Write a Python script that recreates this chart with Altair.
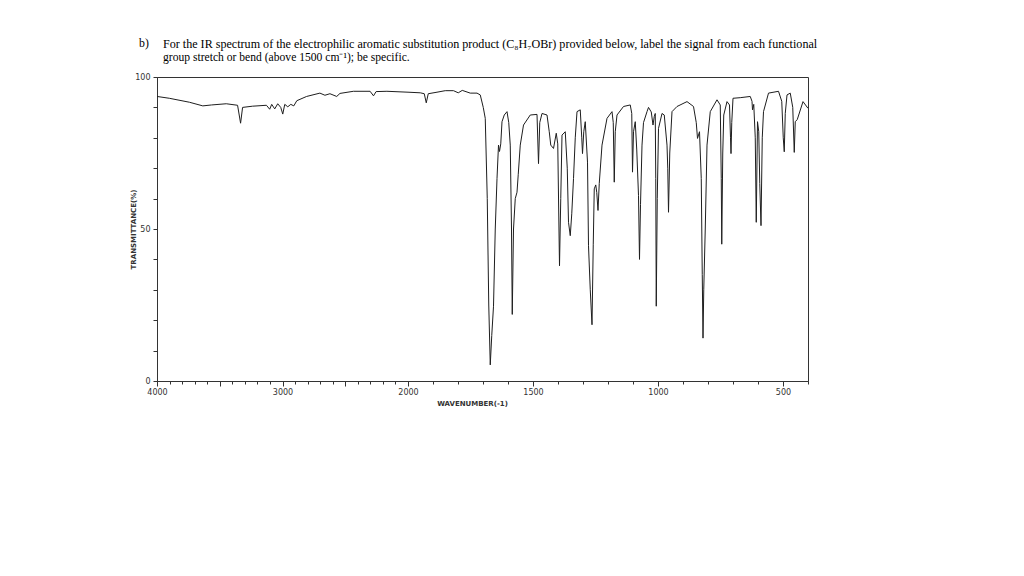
import altair as alt
import pandas as pd

# ---- data ----
WAVENUMBER = [
    4000, 3902, 3742, 3635, 3566, 3448, 3358, 3334, 3318, 3238, 3128, 3102, 3086, 3062,
    3038, 3014, 2998, 2982, 2958, 2934, 2910, 2886, 2808, 2702, 2662, 2622, 2568, 2542,
    2435, 2302, 2275, 2254, 2168, 2000, 1951, 1935, 1927, 1919, 1884, 1851, 1818, 1799,
    1783, 1751, 1724, 1711, 1699, 1691, 1683, 1677, 1671, 1665, 1658, 1651, 1644, 1638,
    1634, 1629, 1624, 1615, 1604, 1597, 1591, 1586, 1583, 1578, 1571, 1564, 1559, 1551,
    1538, 1511, 1484, 1478, 1473, 1464, 1444, 1435, 1429, 1418, 1407, 1401, 1394, 1389,
    1384, 1371, 1363, 1358, 1351, 1345, 1338, 1331, 1324, 1311, 1305, 1302, 1297, 1291,
    1282, 1278, 1271, 1264, 1259, 1255, 1249, 1245, 1240, 1235, 1224, 1204, 1184, 1179,
    1175, 1171, 1164, 1138, 1111, 1105, 1102, 1098, 1091, 1085, 1078, 1074, 1070, 1064,
    1058, 1044, 1038, 1027, 1020, 1015, 1011, 1009, 1007, 1003, 998, 984, 975, 964,
    961, 958, 953, 944, 924, 884, 858, 847, 842, 834, 827, 823, 820, 817,
    811, 804, 791, 764, 751, 747, 745, 741, 737, 724, 714, 710, 708, 705,
    700, 671, 631, 624, 622, 617, 611, 607, 602, 597, 593, 588, 583, 578,
    558, 518, 505, 499, 495, 491, 484, 471, 461, 455, 451, 443, 420, 400,
]
TRANSMITTANCE = [
    93.6, 93.0, 91.7, 90.5, 90.8, 91.2, 90.7, 84.8, 90.0, 90.4, 90.7, 89.4, 91.0, 89.5,
    91.2, 90.0, 87.8, 91.0, 90.2, 91.0, 90.5, 92.2, 93.6, 94.7, 94.0, 94.5, 93.6, 94.6,
    95.3, 95.3, 93.8, 95.2, 95.3, 95.0, 94.8, 94.5, 91.5, 94.5, 95.0, 95.5, 95.5, 94.8,
    95.6, 94.7, 94.7, 94.1, 90.0, 86.4, 60.0, 25.0, 5.3, 15.0, 24.6, 50.0, 66.6, 77.6,
    75.5, 78.0, 85.3, 87.5, 88.6, 85.0, 77.6, 50.0, 21.9, 50.0, 60.0, 62.1, 68.0, 77.6,
    84.2, 87.5, 87.7, 71.5, 85.0, 88.0, 87.5, 82.0, 77.6, 76.5, 81.5, 78.0, 37.9, 60.0,
    80.9, 82.0, 70.0, 52.2, 47.8, 55.0, 66.6, 80.0, 88.6, 89.2, 80.0, 74.8, 82.0, 85.3,
    72.0, 44.5, 30.0, 18.5, 45.0, 63.2, 64.5, 62.0, 56.1, 65.0, 77.6, 86.4, 88.6, 85.0,
    65.4, 82.0, 87.5, 90.3, 90.8, 88.0, 68.7, 82.0, 85.3, 76.0, 61.0, 40.0, 58.0, 77.6,
    85.0, 88.6, 90.0, 88.5, 84.2, 87.0, 88.0, 66.6, 24.6, 60.0, 83.1, 88.0, 87.5, 77.6,
    70.0, 55.5, 75.0, 88.6, 90.3, 91.9, 90.3, 85.0, 79.8, 82.0, 66.6, 35.0, 14.1, 30.0,
    50.0, 77.6, 88.6, 92.5, 90.8, 66.6, 45.0, 75.0, 87.5, 91.9, 90.8, 80.0, 74.8, 85.0,
    93.0, 93.2, 93.6, 92.0, 89.2, 91.0, 80.0, 52.2, 85.3, 82.0, 65.0, 51.1, 80.0, 88.6,
    94.7, 95.3, 92.0, 80.0, 75.4, 88.0, 94.1, 94.7, 90.0, 75.2, 85.3, 86.0, 91.9, 89.7,
]
X_TICKS = list(range(4000, 399, -100))
X_LABELED = [4000, 3000, 2000, 1500, 1000, 500]
Y_TICKS = list(range(0, 101, 10))
Y_LABELED = [0, 50, 100]

TITLE_LINE_1 = "For the IR spectrum of the electrophilic aromatic substitution product (C\u2088H\u2087OBr) provided below, label the signal from each functional"
TITLE_LINE_2 = "group stretch or bend (above 1500 cm\u207b\u00b9); be specific."
ITEM_LABEL = ["b)"]

df = pd.DataFrame({"wn": WAVENUMBER, "t": TRANSMITTANCE, "i": list(range(len(WAVENUMBER)))})

x_scale = alt.Scale(domain=[4000, 2000, 400], range=[0, 251, 651], nice=False, zero=False)
y_scale = alt.Scale(domain=[0, 100], nice=False, zero=False)

x_label_expr = "indexof([" + ",".join(str(v) for v in X_LABELED) + "], datum.value) >= 0 ? datum.label : ''"
y_label_expr = "indexof([" + ",".join(str(v) for v in Y_LABELED) + "], datum.value) >= 0 ? datum.label : ''"

axis_font = "DejaVu Sans"

line = alt.Chart(df).mark_line(color="#1e1e1e", strokeWidth=1, clip=True).encode(
    x=alt.X(
        "wn:Q",
        scale=x_scale,
        axis=alt.Axis(
            values=X_TICKS,
            format="d",
            labelExpr=x_label_expr,
            labelFlush=False,
            labelOverlap=False,
            grid=False,
            domainColor="#333333",
            tickColor="#333333",
            tickSize={"condition": {"test": "datum.value % 500 == 0", "value": 5}, "value": 3},
            labelFont=axis_font,
            labelFontSize=8,
            labelColor="#333333",
            labelPadding=2,
            title="WAVENUMBER(-1)",
            titleFont=axis_font,
            titleFontSize=7,
            titleFontWeight="bold",
            titleColor="#333333",
            titleX=315,
            titleY=22,
            titleAlign="center",
            titleBaseline="middle",
        ),
    ),
    y=alt.Y(
        "t:Q",
        scale=y_scale,
        axis=alt.Axis(
            values=Y_TICKS,
            format="d",
            labelExpr=y_label_expr,
            labelOverlap=False,
            labelFlush=False,
            grid=False,
            domainColor="#333333",
            tickColor="#333333",
            tickSize=4,
            labelFont=axis_font,
            labelFontSize=8,
            labelColor="#333333",
            labelPadding=3,
            title="TRANSMITTANCE(%)",
            titleFont=axis_font,
            titleFontSize=7,
            titleFontWeight="bold",
            titleColor="#333333",
            titleX=-24,
            titleY=152,
            titleAngle=270,
            titleAlign="center",
            titleBaseline="middle",
        ),
    ),
    order="i:Q",
)

item = alt.Chart(pd.DataFrame({"lab": ITEM_LABEL})).mark_text(
    font="Liberation Serif", fontSize=11.8, align="left", baseline="middle", color="black"
).encode(text="lab:N", x=alt.value(-18), y=alt.value(-34))

chart = alt.layer(line, item).properties(
    width=651,
    height=304,
    title=alt.TitleParams(
        text=TITLE_LINE_1,
        subtitle=TITLE_LINE_2,
        anchor="start",
        frame="group",
        font="Liberation Serif",
        fontSize=12.1,
        fontWeight="normal",
        color="black",
        subtitleFont="Liberation Serif",
        subtitleFontSize=11.6,
        subtitleColor="black",
        subtitlePadding=2,
        dx=6,
        dy=43,
        offset=17,
    ),
    autosize=alt.AutoSizeParams(type="none"),
    padding={"left": 157, "top": 77, "right": 216, "bottom": 195},
).configure_view(stroke="#333333", strokeWidth=1)

chart.save("out.html", embed_options={"renderer": "svg", "actions": False})
